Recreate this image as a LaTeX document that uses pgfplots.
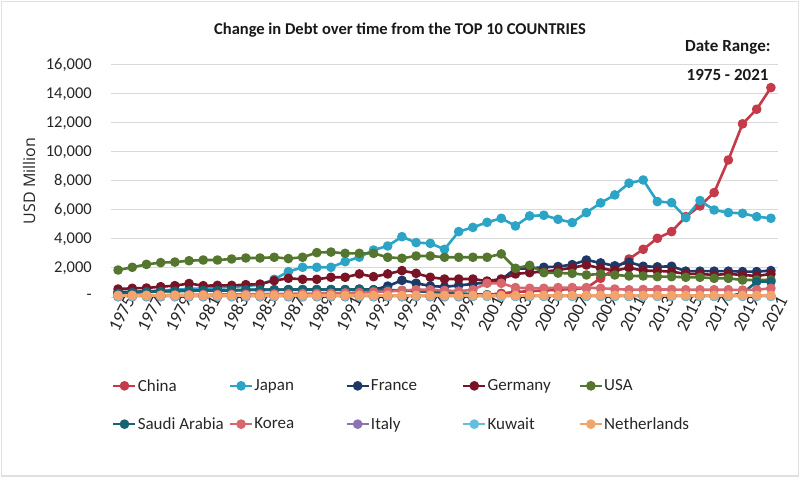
\documentclass[border=0pt]{standalone}
\usepackage{pgfplots}
\pgfplotsset{compat=1.18}
\usepackage{pgfplotstable}
\usepackage{fontspec}
\setmainfont{Carlito}
\newfontfamily\opensans{Open Sans}
\definecolor{cChina}{RGB}{196,58,73}
\definecolor{cJapan}{RGB}{43,164,198}
\definecolor{cFrance}{RGB}{30,56,104}
\definecolor{cGermany}{RGB}{120,20,38}
\definecolor{cUSA}{RGB}{84,118,46}
\definecolor{cSaudi}{RGB}{22,100,115}
\definecolor{cKorea}{RGB}{214,104,110}
\definecolor{cItaly}{RGB}{140,115,180}
\definecolor{cKuwait}{RGB}{100,190,220}
\definecolor{cNL}{RGB}{244,164,106}

\pgfplotstableread{
year china japan france germany usa saudi korea italy kuwait nl
1975 20 300 350 550 1860 250 100 60 40 110
1976 20 350 350 600 2050 300 110 60 40 110
1977 20 400 380 620 2250 350 120 60 40 110
1978 20 450 400 710 2370 380 130 60 40 110
1979 20 500 420 780 2410 400 140 60 40 110
1980 20 550 450 930 2500 420 150 60 40 110
1981 20 600 450 780 2550 450 160 60 40 110
1982 20 650 450 800 2550 450 170 60 40 110
1983 20 700 450 800 2620 480 180 60 40 110
1984 20 750 480 850 2690 500 190 60 40 110
1985 20 850 500 890 2690 500 200 60 40 110
1986 20 1220 500 1130 2740 500 210 60 40 110
1987 20 1750 500 1290 2650 520 220 60 40 110
1988 20 2050 500 1220 2740 520 230 60 40 110
1989 20 2050 500 1220 3060 520 240 60 40 110
1990 20 2050 500 1360 3100 520 250 60 40 110
1991 20 2440 500 1360 3010 520 280 60 40 110
1992 20 2750 550 1590 3010 520 300 60 40 110
1993 20 3240 500 1400 3010 500 350 60 40 110
1994 20 3520 750 1590 2740 480 380 60 40 110
1995 20 4160 1150 1820 2670 450 450 60 40 110
1996 20 3750 950 1630 2830 400 500 60 40 110
1997 20 3700 760 1360 2830 350 500 60 40 110
1998 20 3290 700 1240 2740 300 450 60 40 110
1999 20 4510 800 1240 2740 250 400 60 40 110
2000 50 4800 900 1240 2740 200 500 60 40 110
2001 150 5150 1000 1100 2740 150 950 60 40 110
2002 250 5430 1200 1240 2970 100 950 60 40 110
2003 350 4900 1950 1590 1980 60 650 60 40 110
2004 400 5590 1980 1680 2180 60 600 60 40 110
2005 450 5640 2050 1750 1680 60 600 60 40 110
2006 500 5360 2100 1860 1650 60 650 60 40 110
2007 550 5130 2230 2020 1630 60 650 60 40 110
2008 620 5820 2550 2210 1520 60 650 60 40 110
2009 1290 6490 2350 1980 1590 60 600 60 40 110
2010 1960 7040 2150 1820 1520 60 550 60 40 110
2011 2620 7850 2400 2020 1450 60 500 60 40 110
2012 3290 8070 2120 1820 1450 60 520 60 40 110
2013 4050 6580 2080 1800 1400 60 520 60 40 110
2014 4510 6510 2120 1750 1400 60 520 60 40 110
2015 5540 5470 1780 1590 1360 60 500 60 40 110
2016 6280 6650 1780 1590 1360 60 500 60 40 110
2017 7200 6000 1780 1520 1290 60 500 60 40 110
2018 9450 5820 1780 1590 1290 60 500 60 40 110
2019 11940 5770 1750 1520 1170 250 480 60 40 110
2020 12950 5540 1750 1450 1170 1060 500 60 40 110
2021 14440 5430 1820 1590 1170 1060 600 60 40 110
}\data

\begin{document}
\begin{tikzpicture}
\path[use as bounding box] (0bp,0bp) rectangle (800bp,480bp);
\draw[black!12, line width=1.2bp] (1.5bp,4bp) rectangle (798.5bp,478.5bp);
\node[font=\fontsize{16.5bp}{19bp}\selectfont\bfseries, text=black!90] at (400bp,450bp) {Change in Debt over time from the TOP 10 COUNTRIES};
\node[anchor=east, font=\fontsize{17bp}{20bp}\selectfont\bfseries, text=black!90] at (774bp,433bp) {Date Range:};
\node[anchor=east, font=\fontsize{17bp}{20bp}\selectfont\bfseries, text=black!90] at (772bp,405bp) {1975 - 2021};
\node[rotate=90, font=\opensans\fontsize{16bp}{19bp}\selectfont, text=black!85] at (29bp,299bp) {USD Million};
\begin{axis}[
  at={(111bp,183bp)}, anchor=south west, scale only axis,
  width=667bp, height=232bp,
  xmin=1974.5, xmax=2021.5, ymin=0, ymax=16000,
  scaled y ticks=false,
  axis line style={draw=none},
  major tick length=0pt,
  ymajorgrids, grid style={black!15, line width=1bp},
  ytick={0,2000,4000,6000,8000,10000,12000,14000,16000},
  yticklabels={{-\hspace{9bp}},{2,000},{4,000},{6,000},{8,000},{10,000},{12,000},{14,000},{16,000}},
  yticklabel style={anchor=east, inner sep=0pt, xshift=-19bp, font=\fontsize{16.5bp}{19bp}\selectfont, text=black!85},
  xtick={1975,1977,...,2021},
  xticklabel style={rotate=63, anchor=east, inner sep=0pt, xshift=5bp, yshift=-11bp,
     font=\fontsize{18bp}{20bp}\selectfont, text=black!85,
     /pgf/number format/1000 sep={}, /pgf/number format/assume math mode=true},
  every axis plot/.append style={line width=2.6bp, mark=*, mark size=3.5bp, line join=round},
  legend columns=5,
  legend style={at={(0,0)}, anchor=north west, xshift=1bp, yshift=-81bp,
     draw=none, fill=none, inner sep=0pt, column sep=0pt, row sep=23bp,
     font=\fontsize{17bp}{19bp}\selectfont, text=black!85,
     nodes={inner sep=1bp}},
  legend cell align=left,
  legend image code/.code={\draw[mark repeat=2,mark phase=2] plot coordinates {(0bp,0bp) (11bp,0bp) (22bp,0bp)};},
]
\addplot[color=cChina] table[x=year,y=china] {\data};
\addlegendentry{\makebox[90bp][l]{China}}
\addplot[color=cJapan] table[x=year,y=japan] {\data};
\addlegendentry{\makebox[90bp][l]{Japan}}
\addplot[color=cFrance] table[x=year,y=france] {\data};
\addlegendentry{\makebox[90bp][l]{France}}
\addplot[color=cGermany] table[x=year,y=germany] {\data};
\addlegendentry{\makebox[90bp][l]{Germany}}
\addplot[color=cUSA] table[x=year,y=usa] {\data};
\addlegendentry{\makebox[90bp][l]{USA}}
\addplot[color=cSaudi] table[x=year,y=saudi] {\data};
\addlegendentry{\makebox[90bp][l]{Saudi Arabia}}
\addplot[color=cKorea] table[x=year,y=korea] {\data};
\addlegendentry{\makebox[90bp][l]{Korea}}
\addplot[color=cItaly] table[x=year,y=italy] {\data};
\addlegendentry{\makebox[90bp][l]{Italy}}
\addplot[color=cKuwait] table[x=year,y=kuwait] {\data};
\addlegendentry{\makebox[90bp][l]{Kuwait}}
\addplot[color=cNL] table[x=year,y=nl] {\data};
\addlegendentry{\makebox[90bp][l]{Netherlands}}
\end{axis}
\end{tikzpicture}
\end{document}
